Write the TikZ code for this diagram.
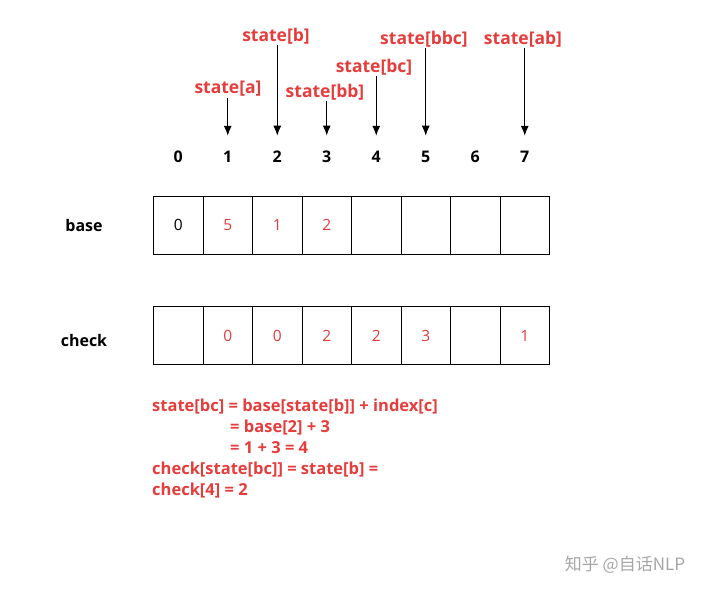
\documentclass[tikz,border=0pt]{standalone}
\usepackage{fontspec}
\usetikzlibrary{arrows.meta}
\setmainfont{Open Sans}
\newfontfamily\cjk{Noto Sans CJK SC}
\definecolor{myred}{RGB}{230,60,60}
\begin{document}
\begin{tikzpicture}[x=1pt,y=-1pt,
  cell/.style={draw,line width=0.9pt,minimum width=49.5pt,minimum height=58pt,inner sep=0pt,font=\fontsize{15.5}{17}\selectfont},
  lbl/.style={font=\bfseries\fontsize{17.5}{19}\selectfont,text=myred,inner sep=1pt},
  idx/.style={font=\bfseries\fontsize{16}{17}\selectfont},
  arr/.style={-{Latex[length=10pt,width=8pt]},line width=1pt}]
\useasboundingbox (0,0) rectangle (720,596);
\foreach \v [count=\i from 0] in {0,1,2,3,4,5,6,7}{
  \node[idx] (i\i) at (178.25+\i*49.5,157) {\v};
}
\foreach \v [count=\i from 0] in {{\color{black}0},5,1,2,,,,}{
  \node[cell,text=myred] (b\i) at (178.25+\i*49.5,225) {\v};
}
\foreach \v [count=\i from 0] in {,0,0,2,2,3,,1}{
  \node[cell,text=myred] (c\i) at (178.25+\i*49.5,335.5) {\v};
}
\node[idx] (base) at (84,226) {base};
\node[idx] (check) at (84,340) {check};
\node[lbl] (sa) at (228,89) {state[a]};
\node[lbl] (sb) at (276,36) {state[b]};
\node[lbl] (sbb) at (325,92) {state[bb]};
\node[lbl] (sbc) at (374,67) {state[bc]};
\node[lbl] (sbbc) at (424,39) {state[bbc]};
\node[lbl] (sab) at (523,39) {state[ab]};
\foreach \s/\i in {sa/1,sb/2,sbb/3,sbc/4,sbbc/5,sab/7}{
  \coordinate (t\i) at ([yshift=12pt]i\i.north);
  \draw[arr] (\s.south -| t\i) -- (t\i);
}
\node[lbl,anchor=north west,align=left,font=\bfseries\fontsize{16.5}{21}\selectfont] (f) at (151,398)
 {state[bc] = base[state[b]] + index[c]\\
  \hspace{78pt}= base[2] + 3\\
  \hspace{78pt}= 1 + 3 = 4\\
  check[state[bc]] = state[b] =\\
  check[4] = 2};
\node[text=black!35,font=\cjk\fontsize{17}{18}\selectfont] (wm) at (625,565) {知乎 @自话NLP};
\end{tikzpicture}
\end{document}
